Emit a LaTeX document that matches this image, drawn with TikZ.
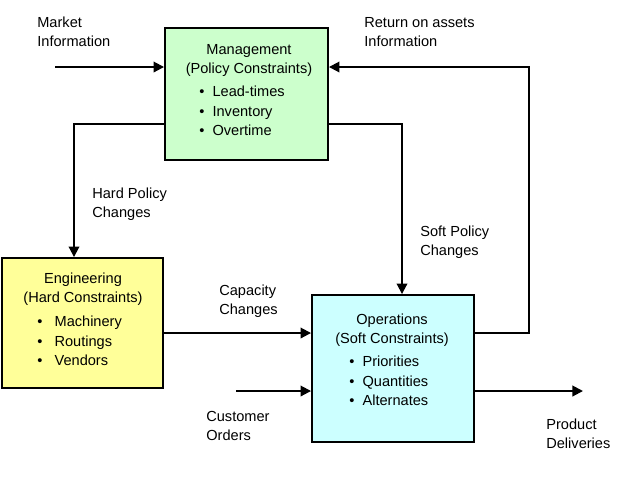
\documentclass[tikz,border=0pt]{standalone}
\usepackage{fontspec}
\setmainfont{Liberation Sans}
\usetikzlibrary{arrows.meta, positioning}
\definecolor{mgmtgreen}{RGB}{204,255,204}
\definecolor{engyellow}{RGB}{255,255,153}
\definecolor{opscyan}{RGB}{204,255,255}

\begin{document}
\begin{tikzpicture}[
          x=0.02cm, y=-0.02cm,
          box/.style={
              draw=black,
              line width=1.1pt,
              inner sep=0pt
            },
          title/.style={
              font=\fontsize{8.3}{11}\selectfont,
              align=center,
              inner sep=0pt
            },
          items/.style={
              font=\fontsize{8.3}{11}\selectfont,
              align=left,
              anchor=west,
              inner sep=0pt
            },
          lbl/.style={
              font=\fontsize{8.3}{11}\selectfont,
              align=left,
              anchor=west,
              inner sep=0pt
            },
          arr/.style={-{Triangle[length=6pt,width=6pt]}, black, line width=1.1pt}
        ]
        \useasboundingbox (0,0) rectangle (638,478);

        \node[box, fill=mgmtgreen, minimum width=3.26cm, minimum height=2.64cm] (mgmt_box) at (246.5,94) {};
        \node[title] (mgmt_title) at (249,60.5) {Management\\(Policy Constraints)};
        \node[items] (mgmt_list) at (199,111) {\textbullet\ \ Lead-times\\\textbullet\ \ Inventory\\\textbullet\ \ Overtime};

        \node[box, fill=engyellow, minimum width=3.22cm, minimum height=2.6cm] (eng_box) at (82.5,323) {};
        \node[title] (eng_title) at (83,289.5) {Engineering\\(Hard Constraints)};
        \node[items] (eng_list) at (37,341) {\textbullet\ \ \ Machinery\\\textbullet\ \ \ Routings\\\textbullet\ \ \ Vendors};

        \node[box, fill=opscyan, minimum width=3.24cm, minimum height=2.94cm] (ops_box) at (393,368.5) {};
        \node[title] (ops_title) at (392,330) {Operations\\(Soft Constraints)};
        \node[items] (ops_list) at (349,381) {\textbullet\ \ Priorities\\\textbullet\ \ Quantities\\\textbullet\ \ Alternates};

        \node[lbl] (market_lbl) at (37,32) {Market\\Information};
        \node[lbl] (return_lbl) at (364,32) {Return on assets\\Information};
        \node[lbl] (hard_lbl) at (92,204) {Hard Policy\\Changes};
        \node[lbl] (soft_lbl) at (420,242) {Soft Policy\\Changes};
        \node[lbl] (cap_lbl) at (219,301) {Capacity\\Changes};
        \node[lbl] (orders_lbl) at (206,426) {Customer\\Orders};
        \node[lbl] (deliv_lbl) at (546,434) {Product\\Deliveries};

        \coordinate (market_in) at (55,67);
        \coordinate (orders_in) at (236,391);
        \coordinate (deliv_out) at (583,391);
        \coordinate (hard_turn) at (74,124);
        \coordinate (soft_turn) at (402,124);
        \coordinate (ret_turn) at (529,333);

        \draw[arr] (market_in) -- (mgmt_box.west |- market_in);
        \draw[arr] (ops_box.east |- ret_turn) -- (ret_turn) |- (mgmt_box.east |- market_in);
        \draw[arr] (mgmt_box.west |- hard_turn) -- (hard_turn) -- (eng_box.north -| hard_turn);
        \draw[arr] (mgmt_box.east |- soft_turn) -- (soft_turn) -- (ops_box.north -| soft_turn);
        \draw[arr] (eng_box.east |- ret_turn) -- (ops_box.west |- ret_turn);
        \draw[arr] (orders_in) -- (ops_box.west |- orders_in);
        \draw[arr] (ops_box.east |- orders_in) -- (deliv_out);
      \end{tikzpicture}
\end{document}
